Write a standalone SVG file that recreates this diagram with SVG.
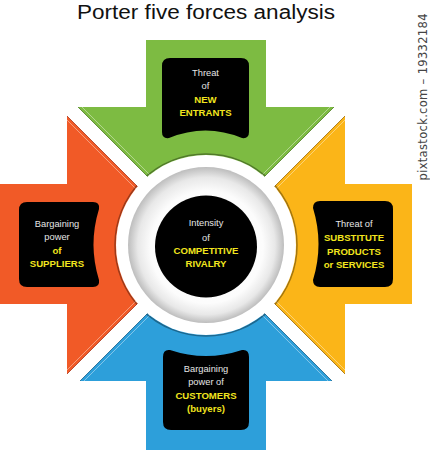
<svg xmlns="http://www.w3.org/2000/svg" width="430" height="450" viewBox="0 0 430 450">
<style>
.lt{font-family:"Liberation Sans",Arial,sans-serif;font-size:9.3px;fill:#e6e6e6;text-anchor:middle}
.bd{font-family:"Liberation Sans",Arial,sans-serif;font-size:9.6px;font-weight:bold;fill:#f2e51e;text-anchor:middle}
.box{fill:#000}
.hl{stroke:#fff;stroke-opacity:0.5;stroke-width:0.8;fill:none}
</style>
<defs>
<radialGradient id="sph" cx="0.5" cy="0.5" r="0.5" fx="0.52" fy="0.55">
<stop offset="0" stop-color="#ffffff"/>
<stop offset="0.72" stop-color="#fcfcfc"/>
<stop offset="0.88" stop-color="#e8e8e8"/>
<stop offset="1" stop-color="#bdbdbd"/>
</radialGradient>
<clipPath id="arrClip">
<polygon points="146,40 266,40 266,107 334,107 206,235 78,107 146,107"/>
<polygon points="0,184 67,184 67,116 196,245 67,374 67,304 0,304"/>
<polygon points="412,184 345,184 345,116 216,245 345,374 345,304 412,304"/>
<polygon points="146,450 146,381 80,381 206,255 332,381 266,381 266,450"/>
</clipPath>
</defs>
<rect width="430" height="450" fill="#fff"/>
<text x="206" y="18.5" font-family="Liberation Sans,Arial,sans-serif" font-size="20" fill="#111" text-anchor="middle" textLength="258" lengthAdjust="spacingAndGlyphs">Porter five forces analysis</text>
<text transform="translate(426.5,97) rotate(-90)" font-family="DejaVu Sans,sans-serif" font-size="11.5" fill="#444" text-anchor="middle" textLength="167">pixtastock.com – 19332184</text>

<g id="connectors">
<polygon points="146,40 266,40 266,107 334,107 206,235 78,107 146,107" fill="#7dbb42"/>
<polygon points="0,184 67,184 67,116 196,245 67,374 67,304 0,304" fill="#f15a27"/>
<polygon points="412,184 345,184 345,116 216,245 345,374 345,304 412,304" fill="#fbb518"/>
<polygon points="146,450 146,381 80,381 206,255 332,381 266,381 266,450" fill="#2d9fda"/>
<polyline points="78,107 206,235 334,107" fill="none" stroke="#4e7f22" stroke-width="0.8"/>
<polyline points="67,116 196,245 67,374" fill="none" stroke="#a8351a" stroke-width="0.8"/>
<polyline points="345,116 216,245 345,374" fill="none" stroke="#9b6a08" stroke-width="0.8"/>
<polyline points="80,381 206,255 332,381" fill="none" stroke="#155f8a" stroke-width="0.8"/>
<line class="hl" x1="82" y1="107" x2="206" y2="231"/>
<line class="hl" x1="330" y1="107" x2="206" y2="231"/>
<line class="hl" x1="67" y1="120" x2="192" y2="245"/>
<line class="hl" x1="67" y1="370" x2="192" y2="245"/>
<line class="hl" x1="345" y1="120" x2="220" y2="245"/>
<line class="hl" x1="345" y1="370" x2="220" y2="245"/>
<line class="hl" x1="84" y1="381" x2="206" y2="259"/>
<line class="hl" x1="328" y1="381" x2="206" y2="259"/>
</g>

<g id="node-entrants">
<path class="box" d="M170,58 H241 Q249,58 249,66 V132 Q249,139 242,138 Q205.5,123 169,138 Q162,139 162,132 V66 Q162,58 170,58 Z"/>
<text class="lt" x="205.5" y="76">Threat</text>
<text class="lt" x="205.5" y="89">of</text>
<text class="bd" x="205.5" y="102.5">NEW</text>
<text class="bd" x="205.5" y="116">ENTRANTS</text>
</g>

<g id="node-suppliers">
<path class="box" d="M27,202 H93 Q100,202 99,209 Q88,244.5 99,280 Q100,287 93,287 H27 Q19,287 19,279 V210 Q19,202 27,202 Z"/>
<text class="lt" x="57" y="227">Bargaining</text>
<text class="lt" x="57" y="240">power</text>
<text class="bd" x="57" y="253.5">of</text>
<text class="bd" x="57" y="267">SUPPLIERS</text>
</g>

<g id="node-substitutes">
<path class="box" d="M320,201 H385 Q393,201 393,209 V279 Q393,287 385,287 H320 Q313,287 313,280 Q324,244 313,208 Q313,201 320,201 Z"/>
<text class="lt" x="354" y="227">Threat of</text>
<text class="bd" x="354" y="241">SUBSTITUTE</text>
<text class="bd" x="354" y="254.5">PRODUCTS</text>
<text class="bd" x="354" y="268">or SERVICES</text>
</g>

<g id="node-customers">
<path class="box" d="M170,350 Q206,362 242,350 Q249,349 249,357 V422 Q249,430 241,430 H171 Q163,430 163,422 V357 Q163,349 170,350 Z"/>
<text class="lt" x="206" y="372">Bargaining</text>
<text class="lt" x="206" y="385">power of</text>
<text class="bd" x="206" y="399">CUSTOMERS</text>
<text class="bd" x="206" y="411.5">(buyers)</text>
</g>

<g id="node-rivalry">
<circle cx="206" cy="245" r="91" fill="none" stroke="#000" stroke-opacity="0.35" stroke-width="1.5" clip-path="url(#arrClip)"/>
<circle cx="206" cy="245" r="90" fill="#fff"/>
<circle cx="206" cy="245" r="78" fill="url(#sph)"/>
<circle cx="206" cy="246.5" r="51" fill="#000"/>
<text class="lt" x="206" y="226">Intensity</text>
<text class="lt" x="206" y="241">of</text>
<text class="bd" x="206" y="254">COMPETITIVE</text>
<text class="bd" x="206" y="267">RIVALRY</text>
</g>
</svg>
